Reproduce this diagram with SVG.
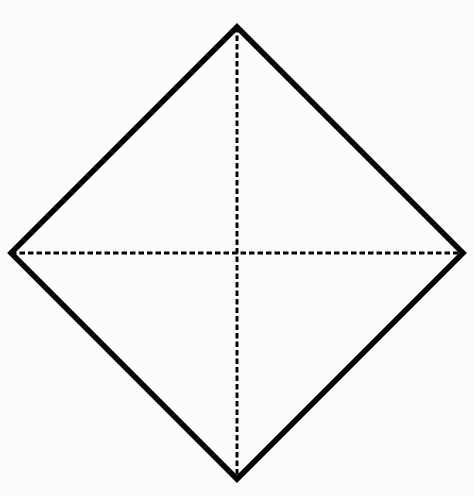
<svg xmlns="http://www.w3.org/2000/svg" width="474" height="496" viewBox="0 0 474 496">
<style>
.outline{fill:none;stroke:#000;stroke-width:5.5;stroke-linejoin:miter}
.dash{fill:none;stroke:#000;stroke-width:3;stroke-dasharray:5.5 3}
</style>
<rect width="474" height="496" fill="#fcfcfc"/>
<g id="connectors">
<line class="dash" x1="237" y1="27" x2="237" y2="479"/>
<line class="dash" x1="11" y1="253" x2="463" y2="253"/>
</g>
<g id="diamond">
<polygon class="outline" points="237,27 463,253 237,479 11,253"/>
</g>
</svg>
